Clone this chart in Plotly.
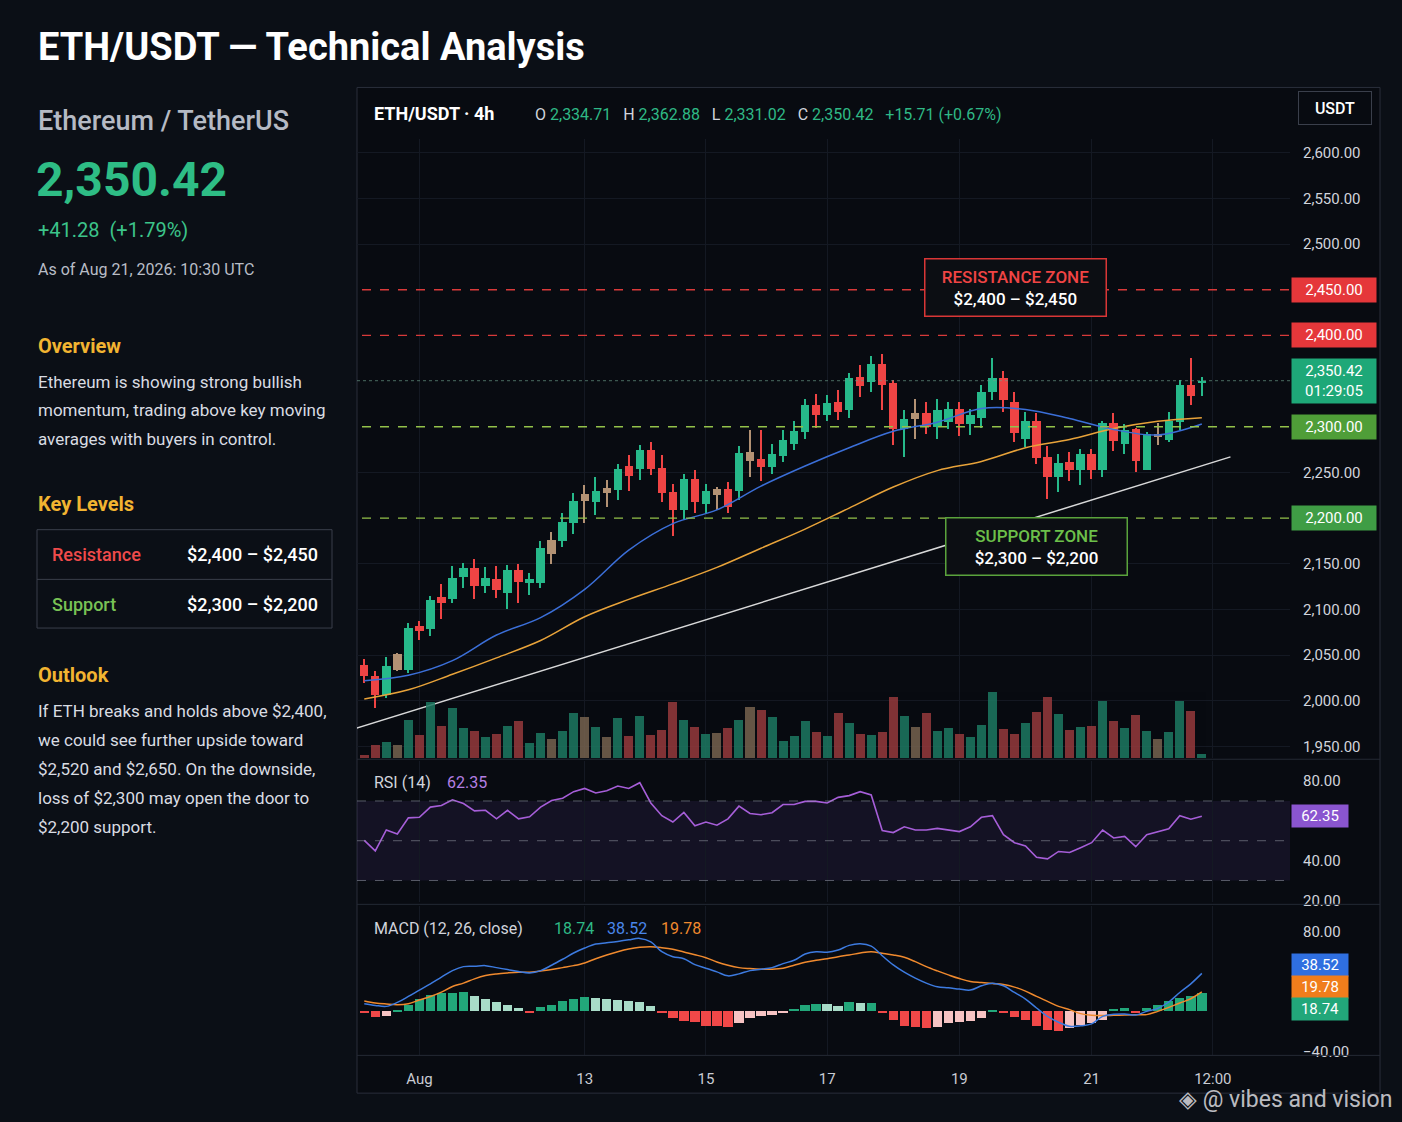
import plotly.graph_objects as go

W, H = 1402, 1122
FONT = "Roboto, 'Noto Sans', sans-serif"

# ---- 4h candles, oldest first ----
opens = [2039, 2027, 2006, 2051, 2034, 2082, 2079, 2113, 2111, 2135,
         2145, 2126, 2133, 2118, 2143, 2129, 2129, 2161, 2175, 2195,
         2219, 2218, 2227, 2231, 2257, 2254, 2274, 2255, 2228, 2209,
         2243, 2215, 2232, 2232, 2229, 2272, 2265, 2256, 2268, 2281,
         2294, 2324, 2313, 2327, 2318, 2354, 2349, 2369, 2348, 2297,
         2308, 2315, 2300, 2305, 2319, 2303, 2310, 2338, 2353, 2327,
         2286, 2306, 2267, 2245, 2261, 2253, 2270, 2253, 2304, 2281,
         2297, 2253, 2292, 2285, 2305, 2346, 2348]
highs = [2046, 2032, 2048, 2052, 2085, 2087, 2115, 2128, 2147, 2151,
         2155, 2146, 2147, 2149, 2150, 2140, 2175, 2185, 2205, 2227,
         2236, 2245, 2242, 2259, 2269, 2280, 2283, 2269, 2237, 2248,
         2253, 2237, 2234, 2239, 2279, 2296, 2296, 2281, 2296, 2306,
         2330, 2336, 2335, 2340, 2359, 2367, 2377, 2379, 2351, 2318,
         2330, 2327, 2330, 2327, 2327, 2319, 2346, 2375, 2361, 2338,
         2316, 2315, 2279, 2270, 2272, 2276, 2276, 2306, 2315, 2303,
         2299, 2294, 2304, 2316, 2351, 2375, 2354]
lows = [2019, 1992, 2003, 2033, 2030, 2066, 2071, 2089, 2107, 2123,
        2111, 2118, 2112, 2100, 2107, 2116, 2123, 2150, 2168, 2183,
        2194, 2203, 2212, 2220, 2229, 2242, 2247, 2218, 2180, 2199,
        2205, 2205, 2209, 2205, 2220, 2245, 2240, 2248, 2261, 2274,
        2286, 2299, 2306, 2307, 2310, 2332, 2338, 2318, 2280, 2267,
        2286, 2292, 2287, 2297, 2290, 2291, 2299, 2329, 2316, 2283,
        2278, 2259, 2221, 2228, 2240, 2236, 2243, 2245, 2273, 2270,
        2250, 2252, 2280, 2283, 2296, 2324, 2333]
closes = [2027, 2006, 2038, 2034, 2080, 2076, 2110, 2107, 2134, 2145,
          2125, 2134, 2121, 2143, 2130, 2133, 2167, 2176, 2196, 2219,
          2226, 2230, 2233, 2254, 2246, 2274, 2254, 2227, 2209, 2243,
          2217, 2230, 2225, 2212, 2271, 2262, 2256, 2270, 2285, 2295,
          2324, 2313, 2326, 2316, 2353, 2345, 2369, 2346, 2297, 2308,
          2315, 2300, 2318, 2319, 2303, 2313, 2338, 2353, 2329, 2293,
          2306, 2266, 2245, 2260, 2253, 2270, 2253, 2304, 2284, 2296,
          2262, 2292, 2289, 2306, 2346, 2333, 2350.42]
muted = [3, 17, 20, 22, 32, 35, 50, 72]  # beige candles

# volume, thousand ETH
volume = [1.5, 6.5, 8, 6.5, 19, 11.5, 28, 16, 25, 15,
          13.5, 10.5, 12, 16, 18.5, 7.5, 12.5, 9.5, 13.5, 22.5,
          20.5, 15.5, 10.5, 20, 11, 21, 11.5, 14, 28, 19,
          15.5, 12, 12.5, 15, 19, 25.5, 24, 20.5, 8.5, 11,
          18.5, 13, 11, 22.5, 17.5, 12, 11.5, 13, 31, 21,
          15.5, 22.5, 13.5, 15, 12, 10.5, 16.5, 33.5, 14.5, 12,
          17.5, 23, 31, 22, 14, 15.5, 16, 28.5, 18.5, 15,
          21.5, 13.5, 9.5, 13, 28.5, 23.5, 2]

# moving averages (read every 4th candle)
ma_x = [0, 4, 8, 12, 16, 20, 24, 28, 32, 36, 40, 44, 48, 52, 56, 60, 64, 68, 72, 76]
ma_fast = [2022, 2028, 2044, 2072, 2091, 2122, 2165, 2194, 2209, 2235,
           2257, 2277, 2295, 2305, 2320, 2319, 2309, 2297, 2291, 2303]
ma_slow = [2002, 2012, 2029, 2047, 2066, 2092, 2111, 2128, 2146, 2167,
           2188, 2211, 2234, 2252, 2262, 2277, 2286, 2298, 2306, 2310]

trend_x = [-0.7, 78.6]
trend_y = [1970, 2267]

resistance = [2450, 2400]
support = [2300, 2200]
last_price = 2350.42

rsi = [50.2, 44.9, 55.4, 53.4, 61.5, 61.8, 66.9, 67.7, 70.6, 68.7,
       65.0, 65.3, 61.0, 65.3, 61.0, 62.0, 66.9, 70.2, 71.4, 74.7,
       76.3, 74.0, 75.1, 77.5, 76.3, 79.2, 69.0, 62.6, 59.4, 64.2,
       57.5, 59.4, 57.8, 61.0, 67.4, 63.7, 63.1, 64.1, 68.2, 68.2,
       69.8, 69.8, 69.0, 71.8, 72.7, 74.7, 73.0, 55.1, 54.1, 57.0,
       55.4, 55.4, 56.2, 55.4, 54.6, 57.0, 61.8, 62.6, 53.0, 49.0,
       47.4, 41.7, 40.9, 44.6, 44.1, 46.5, 49.0, 55.4, 51.4, 52.2,
       47.0, 53.0, 54.4, 56.0, 62.6, 60.8, 62.35]

macd = [8, 6.3, 5.3, 9.3, 15.3, 21.7, 28, 34.7, 41.3, 45.3,
        45.7, 46.3, 44.3, 42.3, 40.3, 39, 41.3, 46.7, 52.7, 59,
        64, 68, 69.3, 70.7, 72.3, 73.7, 70.3, 60.3, 55.3, 53.3,
        47.3, 43.7, 40, 36, 38, 41.3, 42.7, 44.3, 48.3, 51.7,
        58, 60.3, 59.7, 62, 66.7, 68.3, 66, 56.3, 47, 39.7,
        33.7, 28.7, 25, 24, 22.7, 21.7, 26, 28.7, 26, 19.3,
        12.7, 3.7, -4.7, -10.7, -14.7, -14.3, -12.3, -4.7, -2.7, -2.3,
        -3.3, 0.3, 3.3, 9.7, 19.3, 28, 38.52]
signal = [10.7, 8.7, 7.7, 7, 8, 11.7, 15.3, 19.7, 25.3, 28.7,
          33, 36.3, 38, 39, 39.7, 39.7, 41, 42.3, 44.3, 46.3,
          49, 53.3, 57, 60.3, 63, 64.7, 65.3, 64.3, 62.7, 60,
          57.3, 54.3, 50, 46.7, 44.3, 43.3, 42.7, 42.7, 43.7, 46.7,
          49.7, 51.7, 53.3, 55.3, 57, 59, 60.3, 58.7, 57, 54.7,
          50.3, 45.3, 41, 37, 33.3, 30.3, 29.3, 28.3, 27.3, 24.7,
          20.7, 15.3, 10.3, 5.3, 2, -2, -3.7, -4, -3.7, -3.3,
          -3, -3, 0.3, 4.3, 8.7, 13, 19.78]
hist = [-1, -5.7, -5, 1.7, 6.7, 12.3, 16.7, 18.3, 18.3, 19,
        15.7, 12.3, 9, 6, 3.3, -0.7, 4, 6.7, 10, 12.7,
        14.3, 13.7, 12.3, 11.7, 10.7, 9.7, 5.7, -1.7, -7, -9.3,
        -11, -14.3, -15, -15.7, -11.7, -6.7, -5, -3.3, -1.7, 2.7,
        6.3, 7.7, 7.3, 5.7, 9, 8.3, 8.3, -1.7, -8.3, -14.3,
        -16, -16.7, -15.7, -11.7, -11, -10, -6.7, 0.7, -1.7, -5.7,
        -9, -15, -18.3, -19.3, -16.7, -13.3, -11.7, -8.3, 2.3, 3.3,
        -0.7, 3.3, 6.7, 10, 13.3, 15, 18.74]

tick_pos = [5, 20, 31, 42, 54, 66, 77]
tick_text = ["Aug", "13", "15", "17", "19", "21", "12:00"]
# axis labels not hidden behind the level badges
price_ticks = [1950, 2000, 2050, 2100, 2150, 2250, 2500, 2550, 2600]
rsi_ticks = [20, 40, 80]
macd_ticks = [-40, 80]

# ---- colours ----
BG = "#0b0f16"
PANEL = "#080b11"
GRID = "#141923"
TXT = "#d1d4dc"
UP = "#26b98a"
DN = "#ef4444"
TAN = "#b39274"
ORANGE = "#f2b431"

n = len(closes)
xs = list(range(n))


def candle_color(i):
    if i in muted:
        return TAN
    return UP if closes[i] >= opens[i] else DN


ccol = [candle_color(i) for i in xs]
vcol = []
for c in ccol:
    if c == UP:
        vcol.append("#1d7a62")
    elif c == DN:
        vcol.append("#963a3c")
    else:
        vcol.append("#76634f")

hcol = []
for i, h in enumerate(hist):
    prev = hist[i - 1] if i > 0 else 0
    if h >= 0:
        hcol.append("#22a77a" if h >= prev else "#a8dcc8")
    else:
        hcol.append("#f04848" if h <= prev else "#f6c3c3")

fig = go.Figure()

# volume (behind candles)
fig.add_trace(go.Bar(x=xs, y=volume, marker=dict(color=vcol, line=dict(width=0)),
                     width=0.82, opacity=0.85, xaxis="x", yaxis="y2",
                     hoverinfo="skip"))

# trend line + moving averages
fig.add_trace(go.Scatter(x=trend_x, y=trend_y, mode="lines",
                         line=dict(color="rgba(240,240,240,0.9)", width=1.5),
                         xaxis="x", yaxis="y", hoverinfo="skip"))
fig.add_trace(go.Scatter(x=ma_x, y=ma_slow, mode="lines",
                         line=dict(color="#e8a33a", width=1.5, shape="spline"),
                         xaxis="x", yaxis="y"))
fig.add_trace(go.Scatter(x=ma_x, y=ma_fast, mode="lines",
                         line=dict(color="#3b6fd8", width=1.5, shape="spline"),
                         xaxis="x", yaxis="y"))

# candles: wicks then bodies
fig.add_trace(go.Bar(x=xs, y=[highs[i] - lows[i] for i in xs], base=lows,
                     width=0.13, marker=dict(color=ccol, line=dict(width=0)),
                     xaxis="x", yaxis="y", hoverinfo="skip"))
fig.add_trace(go.Bar(x=xs, y=[max(abs(closes[i] - opens[i]), 1.2) for i in xs],
                     base=[min(opens[i], closes[i]) for i in xs],
                     width=0.76, marker=dict(color=ccol, line=dict(width=0)),
                     xaxis="x", yaxis="y", hoverinfo="skip"))

# RSI
fig.add_trace(go.Scatter(x=xs, y=rsi, mode="lines",
                         line=dict(color="#a65ed8", width=1.6),
                         xaxis="x2", yaxis="y3"))

# MACD
fig.add_trace(go.Bar(x=xs, y=hist, marker=dict(color=hcol, line=dict(width=0)),
                     width=0.85, xaxis="x3", yaxis="y4", hoverinfo="skip"))
fig.add_trace(go.Scatter(x=xs, y=signal, mode="lines",
                         line=dict(color="#f08a2e", width=1.5, shape="spline"),
                         xaxis="x3", yaxis="y4"))
fig.add_trace(go.Scatter(x=xs, y=macd, mode="lines",
                         line=dict(color="#3d7be0", width=1.5, shape="spline"),
                         xaxis="x3", yaxis="y4"))


def px(x):
    return x / W


def py(y):
    return 1 - y / H


XD = [px(357), px(1290)]
XR = [-0.66, 84]

shapes = []
# chart panel
shapes.append(dict(type="rect", xref="paper", yref="paper", x0=px(357), x1=px(1380),
                   y0=py(1100), y1=py(88), line=dict(color="#2a2f3b", width=1),
                   fillcolor=PANEL, layer="below"))
for yy in [764, 910, 1062]:
    shapes.append(dict(type="line", xref="paper", yref="paper", x0=px(357), x1=px(1380),
                       y0=py(yy), y1=py(yy), line=dict(color="#242a35", width=1)))

# level lines
for lv in resistance:
    shapes.append(dict(type="line", xref="paper", yref="y", x0=px(362), x1=XD[1],
                       y0=lv, y1=lv, line=dict(color="#d83a3a", width=1.3, dash="dash")))
for lv in support:
    shapes.append(dict(type="line", xref="paper", yref="y", x0=px(362), x1=XD[1],
                       y0=lv, y1=lv, line=dict(color="#93c24a", width=1.3, dash="dash")))
shapes.append(dict(type="line", xref="paper", yref="y", x0=XD[0], x1=XD[1],
                   y0=last_price, y1=last_price,
                   line=dict(color="rgba(110,160,140,0.65)", width=1, dash="dot")))

# RSI band and guides
shapes.append(dict(type="rect", xref="paper", yref="y3", x0=XD[0], x1=XD[1], y0=30, y1=70,
                   fillcolor="rgba(120,80,190,0.11)", line=dict(width=0), layer="below"))
for lv in [70, 50, 30]:
    shapes.append(dict(type="line", xref="paper", yref="y3", x0=XD[0], x1=XD[1],
                       y0=lv, y1=lv, line=dict(color="rgba(150,155,168,0.55)", width=1,
                                               dash="dash")))

# key levels box on the left
shapes.append(dict(type="rect", xref="paper", yref="paper", x0=px(37), x1=px(332),
                   y0=py(632), y1=py(533), line=dict(color="#3a3f4b", width=1)))
shapes.append(dict(type="line", xref="paper", yref="paper", x0=px(37), x1=px(332),
                   y0=py(583), y1=py(583), line=dict(color="#3a3f4b", width=1)))

ann = []


def txt(x, y, s, size, color, weight=400, anchor="left"):
    ann.append(dict(xref="paper", yref="paper", x=px(x), y=py(y), text=s,
                    showarrow=False, xanchor=anchor, yanchor="middle",
                    font=dict(family=FONT, size=size, color=color, weight=weight)))


txt(36, 47, "ETH/USDT — Technical Analysis", 38, "#ffffff", 700)
txt(36, 122, "Ethereum / TetherUS", 27, "#b5bac4", 500)
txt(34, 181, "2,350.42", 48, "#2ebd85", 700)
txt(36, 231, "+41.28&nbsp;&nbsp;(+1.79%)", 20, "#3cc48a")
txt(36, 271, "As of Aug 21, 2026: 10:30 UTC", 16, "#b9bdc6")

txt(36, 348, "Overview", 20, ORANGE, 700)
for k, line in enumerate(["Ethereum is showing strong bullish",
                          "momentum, trading above key moving",
                          "averages with buyers in control."]):
    txt(36, 384 + 29 * k, line, 17, "#d9dce2")

txt(36, 507, "Key Levels", 20, ORANGE, 700)
txt(50, 558, "Resistance", 18, "#f04b4b", 500)
txt(320, 558, "$2,400 – $2,450", 18, "#ffffff", 500, "right")
txt(50, 608, "Support", 18, "#79c255", 500)
txt(320, 608, "$2,300 – $2,200", 18, "#ffffff", 500, "right")

txt(36, 679, "Outlook", 20, ORANGE, 700)
for k, line in enumerate(["If ETH breaks and holds above $2,400,",
                          "we could see further upside toward",
                          "$2,520 and $2,650. On the downside,",
                          "loss of $2,300 may open the door to",
                          "$2,200 support."]):
    txt(36, 715 + 29.3 * k, line, 17, "#d9dce2")

# chart header
txt(372, 114, "ETH/USDT · 4h", 18, "#ffffff", 700)
G = "<span style='color:#2fb986'>%s</span>"
ohlc = ("O " + G % "2,334.71" + "&nbsp;&nbsp; H " + G % "2,362.88" +
        "&nbsp;&nbsp; L " + G % "2,331.02" + "&nbsp;&nbsp; C " + G % "2,350.42" +
        "&nbsp;&nbsp; " + G % "+15.71 (+0.67%)")
txt(533, 115, ohlc, 16, "#d1d4dc")
ann.append(dict(xref="paper", yref="paper", x=px(1335), y=py(109), text="USDT",
                showarrow=False, xanchor="center", yanchor="middle", width=66, height=26,
                bordercolor="#3a3f4b", borderwidth=1, borderpad=3,
                font=dict(family=FONT, size=16, color="#ffffff", weight=500)))

txt(372, 787, "RSI (14)", 16, TXT)
txt(445, 787, "62.35", 16, "#b37fe3")
txt(372, 934, "MACD (12, 26, close)", 16, TXT)
txt(552, 934, "18.74", 16, "#2fb986")
txt(605, 934, "38.52", 16, "#4a86ea")
txt(659, 934, "19.78", 16, "#f08a2e")

# price badges on the axis
badges = [(2450, "2,450.00", "#e5373a"), (2400, "2,400.00", "#e5373a"),
          (last_price, "2,350.42<br>01:29:05", "#1ea878"),
          (2300, "2,300.00", "#4f9e38"), (2200, "2,200.00", "#3f9d45")]
for val, s, col in badges:
    ann.append(dict(xref="paper", yref="y", x=px(1291), y=val, text=s, showarrow=False,
                    xanchor="left", yanchor="middle", width=78, bgcolor=col,
                    borderpad=3, font=dict(family=FONT, size=15, color="#ffffff")))
ann.append(dict(xref="paper", yref="y3", x=px(1291), y=62.35, text="62.35", showarrow=False,
                xanchor="left", yanchor="middle", width=52, bgcolor="#8a55cf",
                borderpad=2, font=dict(family=FONT, size=15, color="#ffffff")))
for yy, s, col in [(971, "38.52", "#2f6fe0"), (993, "19.78", "#f07d1c"),
                   (1015, "18.74", "#22a77a")]:
    ann.append(dict(xref="paper", yref="paper", x=px(1291), y=py(yy), text=s,
                    showarrow=False, xanchor="left", yanchor="middle", width=52,
                    bgcolor=col, borderpad=2,
                    font=dict(family=FONT, size=15, color="#ffffff")))

# zone call-outs
ann.append(dict(xref="x", yref="y", x=59.1, y=2453,
                text="<span style='color:#f04444'>RESISTANCE ZONE</span><br>$2,400 – $2,450",
                showarrow=False, xanchor="center", yanchor="middle", width=166,
                bgcolor="#0c0e13", bordercolor="#d93636", borderwidth=1.5, borderpad=7,
                font=dict(family=FONT, size=17, color="#ffffff", weight=500)))
ann.append(dict(xref="x", yref="y", x=61.0, y=2169,
                text="<span style='color:#6cc04a'>SUPPORT ZONE</span><br>$2,300 – $2,200",
                showarrow=False, xanchor="center", yanchor="middle", width=166,
                bgcolor="#0c0e13", bordercolor="#5aa33c", borderwidth=1.5, borderpad=7,
                font=dict(family=FONT, size=17, color="#ffffff", weight=500)))

ann.append(dict(xref="paper", yref="paper", x=px(1394), y=py(1106),
                text="◈ @ vibes and vision", showarrow=False, xanchor="right",
                yanchor="middle", font=dict(family=FONT, size=23,
                                            color="rgba(235,235,240,0.8)")))

xbase = dict(domain=XD, range=XR, showgrid=True, gridcolor=GRID, zeroline=False,
             tickvals=tick_pos, ticktext=tick_text, showline=False, ticks="")
yfont = dict(family=FONT, size=15, color=TXT)

fig.update_layout(
    width=W, height=H, margin=dict(l=0, r=0, t=0, b=0),
    paper_bgcolor=BG, plot_bgcolor="rgba(0,0,0,0)",
    showlegend=False, barmode="overlay", bargap=0,
    font=dict(family=FONT, color=TXT),
    xaxis=dict(xbase, anchor="y", showticklabels=False),
    xaxis2=dict(xbase, anchor="y3", matches="x", showticklabels=False),
    xaxis3=dict(xbase, anchor="y4", matches="x", showticklabels=True,
                tickfont=dict(family=FONT, size=15, color="#c9ccd4"),
                ticklabelstandoff=13),
    yaxis=dict(domain=[py(763), py(140)], range=[1937.1, 2614.9], side="right",
               anchor="x", tickvals=price_ticks, tickformat=",.2f", tickfont=yfont,
               gridcolor=GRID, zeroline=False, ticklabelstandoff=12),
    yaxis2=dict(domain=[py(763), py(140)], range=[0, 311.5], overlaying="y",
                anchor="x", visible=False),
    yaxis3=dict(domain=[py(908), py(766)], range=[19, 90], side="right", anchor="x2",
                tickvals=rsi_ticks, tickformat=".2f", tickfont=yfont,
                showgrid=False, zeroline=False, ticklabelstandoff=12),
    yaxis4=dict(domain=[py(1062), py(912)], range=[-44, 106], side="right", anchor="x3",
                tickvals=macd_ticks, tickformat=".2f", tickfont=yfont,
                showgrid=False, zeroline=False, ticklabelstandoff=12),
    shapes=shapes, annotations=ann,
)

fig.write_html("out.html", config={"displayModeBar": False},
               post_script="document.body.style.margin='0';")
